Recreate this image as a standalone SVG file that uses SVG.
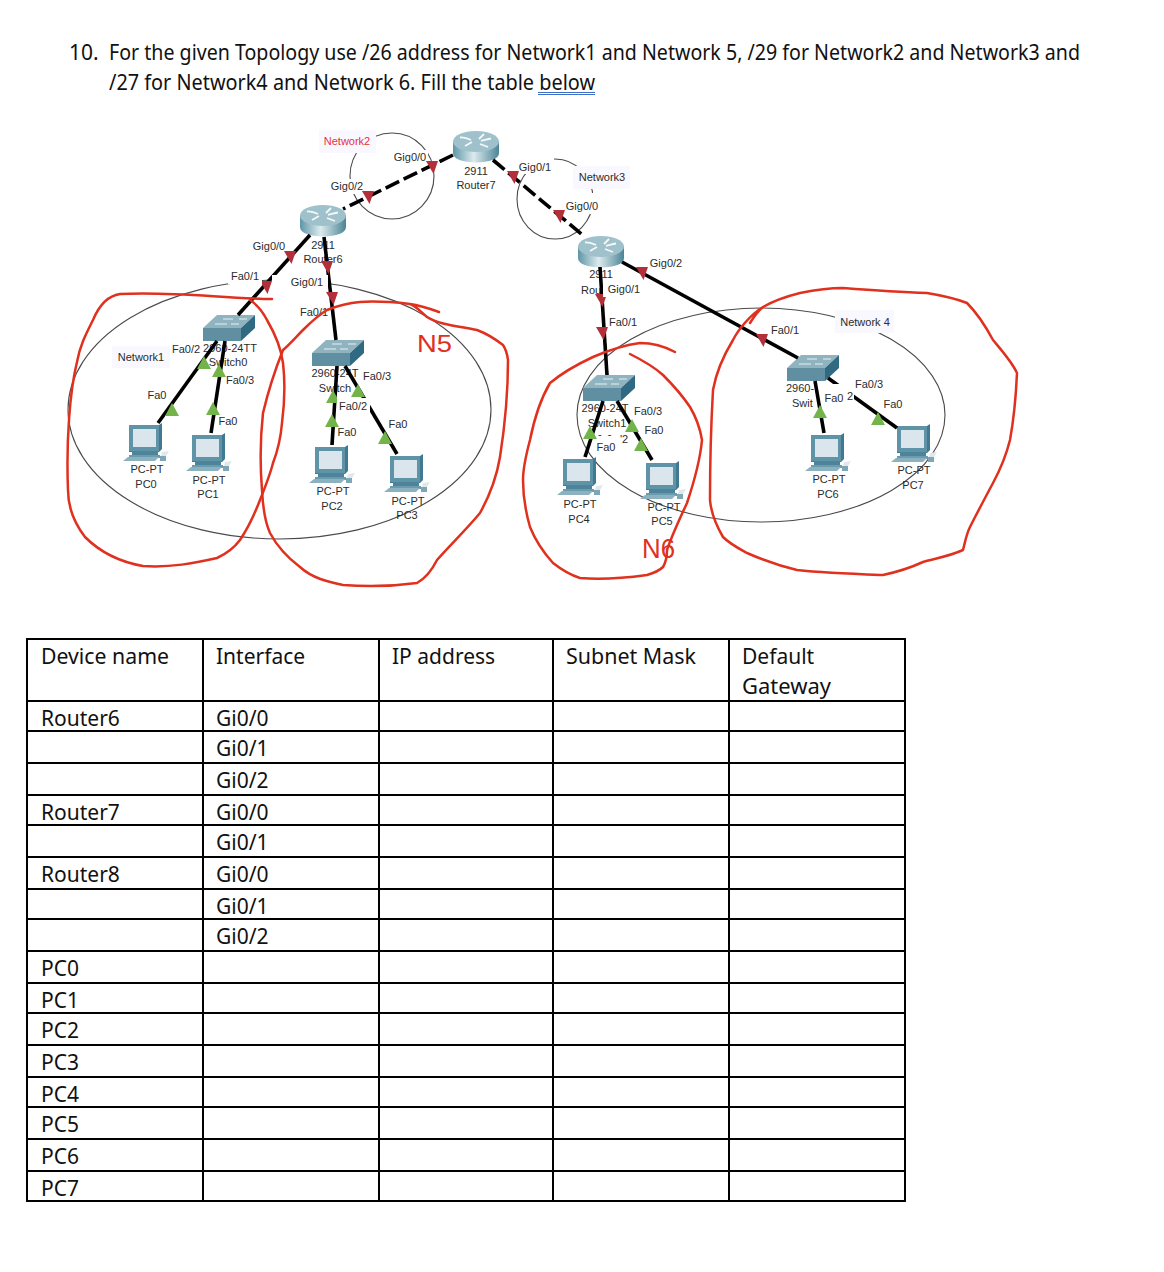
<svg xmlns="http://www.w3.org/2000/svg" width="1164" height="1272" viewBox="0 0 1164 1272">
<style>
.doc{font-family:"Noto Sans","Open Sans","Liberation Sans",sans-serif;font-size:21px;fill:#111}
.pt{font-family:"Liberation Sans",Arial,sans-serif;font-size:11px;fill:#2b2b2b;text-anchor:middle}
.st{text-anchor:start}
.lk{stroke:#000;stroke-width:3.6;fill:none}
.ds{stroke-dasharray:15 5}
.net{fill:none;stroke:#4a4a4a;stroke-width:1.1}
.red{fill:none;stroke:#e0301e;stroke-width:2.5;stroke-linecap:round;stroke-linejoin:round}
.hand{font-family:"Liberation Sans",sans-serif;fill:#e0301e}
.tb{stroke:#000;stroke-width:2;fill:none}
.bg{fill:#fff}
.lb{fill:#f8f8fe}
</style>
<defs>
<linearGradient id="rg" x1="0" x2="1" y1="0" y2="0"><stop offset="0" stop-color="#5f95a6"/><stop offset=".45" stop-color="#dcebee"/><stop offset="1" stop-color="#4c8496"/></linearGradient>
<g id="router">
<path d="M0 10V22C0 28 10 31.500 23 31.500S46 28 46 22V10Z" fill="url(#rg)"/>
<ellipse cx="23" cy="10.500" rx="23" ry="10.500" fill="#9fc1cc"/>
<path d="M7 6.500C11 6 14 7 18 9M12 15l7-4M38 7.500C35 8 32 9 28 10M31 3l-5 5M27 13l8 3" stroke="#f4f8f9" stroke-width="1.800" fill="none"/>
</g>
<g id="switch">
<path d="M14 0H52L38 13H0Z" fill="#8fb4c0"/>
<path d="M0 13H38V26H0Z" fill="#5f8fa1"/>
<path d="M38 13L52 0V13L38 26Z" fill="#2f6a82"/>
<path d="M12 9H24M28 9H36M20 4H30M36 4H44" stroke="#e6f0f3" stroke-width="1.200"/>
</g>
<g id="pc">
<path d="M6 3L36 2L39 0V26L36 29H6Z" fill="#3f7a92"/>
<path d="M6 2H36V28H6Z" fill="#5f93a8"/>
<path d="M10 6H33V24H10Z" fill="#dbe5ec"/>
<path d="M9 28H35V32H9Z" fill="#4e8499"/>
<path d="M6 32H37V35H6Z" fill="#6b9bae"/>
<path d="M5 34H36L32 38H0Z" fill="#8cb1bf"/>
<path d="M39 29l7-1-3 5H38Z" fill="#dfe8ec"/>
<path d="M37 33H43V38H37Z" fill="#7ea6b5"/>
</g>
<path id="rt" d="M-6-6H6L1.500 7Z" fill="#b3303a"/>
<path id="gt" d="M0-7L7 6H-7Z" fill="#72b44a"/>
</defs>
<rect width="1164" height="1272" fill="#fff"/>

<g id="heading">
<text class="doc" x="69" y="60">10.</text>
<text class="doc" x="109" y="60" textLength="971" lengthAdjust="spacingAndGlyphs">For the given Topology use /26 address for Network1 and Network 5, /29 for Network2 and Network3 and</text>
<text class="doc" x="109" y="90" textLength="486" lengthAdjust="spacingAndGlyphs">/27 for Network4 and Network 6. Fill the table below</text>
<path d="M538 92.500H595M538 94.500H595" stroke="#3f6fc4" stroke-width="1"/>
</g>

<g id="network-outlines">
<ellipse class="net" cx="279.500" cy="409.500" rx="211.500" ry="129.500"/>
<ellipse class="net" cx="392" cy="176" rx="42" ry="43"/>
<ellipse class="net" cx="555" cy="199" rx="38" ry="40"/>
<ellipse class="net" cx="761" cy="415" rx="184" ry="107"/>
<rect class="bg" x="517" y="156" width="37" height="18"/>
<rect class="bg" x="564" y="193" width="36" height="21"/>
<rect class="bg" x="392" y="150" width="36" height="15"/>
<rect class="bg" x="329" y="179" width="36" height="15"/>
</g>

<g id="router6"><use href="#router" x="300" y="205"/><text class="pt" x="323" y="249">2911</text><text class="pt" x="323" y="263">Router6</text></g>
<g id="router7"><use href="#router" x="453" y="131"/><text class="pt" x="476" y="175">2911</text><text class="pt" x="476" y="189">Router7</text></g>
<g id="router8"><use href="#router" x="578" y="236"/><text class="pt" x="601" y="278">2911</text><text class="pt st" x="581" y="294">Rou</text></g>
<g id="switch0"><use href="#switch" x="203" y="315"/><text class="pt" x="230" y="352">2960-24TT</text><text class="pt" x="228" y="366">Switch0</text></g>
<g id="switch4"><use href="#switch" x="312" y="340"/><text class="pt" x="335" y="377">2960-24T</text><text class="pt" x="335" y="392">Switch</text></g>
<g id="switch1"><use href="#switch" x="583" y="375"/><text class="pt" x="605" y="412">2960-24T</text><text class="pt" x="607" y="427">Switch1</text></g>
<g id="switch2"><use href="#switch" x="787" y="355"/><text class="pt st" x="786" y="392">2960-</text><text class="pt st" x="792" y="407">Swit</text></g>
<g id="pc0"><use href="#pc" x="123" y="423"/><text class="pt" x="147" y="473">PC-PT</text><text class="pt" x="146" y="488">PC0</text></g>
<g id="pc1"><use href="#pc" x="186" y="433"/><text class="pt" x="209" y="484">PC-PT</text><text class="pt" x="208" y="498">PC1</text></g>
<g id="pc2"><use href="#pc" x="309" y="445"/><text class="pt" x="333" y="495">PC-PT</text><text class="pt" x="332" y="510">PC2</text></g>
<g id="pc3"><use href="#pc" x="384" y="454"/><text class="pt" x="408" y="505">PC-PT</text><text class="pt" x="407" y="519">PC3</text></g>
<g id="pc4"><use href="#pc" x="557" y="457"/><text class="pt" x="580" y="508">PC-PT</text><text class="pt" x="579" y="523">PC4</text></g>
<g id="pc5"><use href="#pc" x="640" y="461"/><text class="pt" x="664" y="511">PC-PT</text><text class="pt" x="662" y="525">PC5</text></g>
<g id="pc6"><use href="#pc" x="805" y="433"/><text class="pt" x="829" y="483">PC-PT</text><text class="pt" x="828" y="498">PC6</text></g>
<g id="pc7"><use href="#pc" x="891" y="424"/><text class="pt" x="914" y="474">PC-PT</text><text class="pt" x="913" y="489">PC7</text></g>

<g id="connectors">
<path class="lk ds" d="M453 155L343 209"/>
<path class="lk ds" d="M493 160L585 237"/>
<path class="lk" d="M310 235L238 315"/>
<path class="lk" d="M324 237L336 340"/>
<path class="lk" d="M600 267L607 375"/>
<path class="lk" d="M622 262L798 358"/>
<path class="lk" d="M217 341L158 423"/>
<path class="lk" d="M225 341L211 433"/>
<path class="lk" d="M337 366L332 445"/>
<path class="lk" d="M345 366L397 454"/>
<path class="lk" d="M603 401L585 457"/>
<path class="lk" d="M617 401L652 460"/>
<path class="lk" d="M815 381L824 433"/>
<path class="lk" d="M828 378L897 428"/>
<g id="link-status">
<use href="#rt" x="290" y="257"/><use href="#rt" x="266" y="287"/><use href="#rt" x="368" y="197"/><use href="#rt" x="432" y="167"/><use href="#rt" x="327" y="267"/><use href="#rt" x="332" y="298"/><use href="#rt" x="513" y="177"/><use href="#rt" x="559" y="216"/><use href="#rt" x="642" y="273"/><use href="#rt" x="601" y="300"/><use href="#rt" x="602" y="333"/><use href="#rt" x="762" y="340"/>
<use href="#gt" x="204" y="363"/><use href="#gt" x="172" y="410"/><use href="#gt" x="219" y="371"/><use href="#gt" x="213" y="409"/><use href="#gt" x="333" y="397"/><use href="#gt" x="358" y="391"/><use href="#gt" x="332" y="421"/><use href="#gt" x="385" y="438"/><use href="#gt" x="590" y="433"/><use href="#gt" x="632" y="426"/><use href="#gt" x="641" y="445"/><use href="#gt" x="820" y="412"/><use href="#gt" x="878" y="419"/>
</g>
</g>

<g id="port-labels">
<rect class="lb" x="319" y="130" width="57" height="23"/><text class="pt" x="347" y="145" style="fill:#e8303f">Network2</text>
<text class="pt" x="410" y="161">Gig0/0</text>
<text class="pt" x="347" y="190">Gig0/2</text>
<text class="pt" x="269" y="250">Gig0/0</text>
<rect class="bg" x="228" y="269" width="34" height="15"/><text class="pt" x="245" y="280">Fa0/1</text>
<rect class="bg" x="272" y="275" width="56" height="15"/><text class="pt" x="307" y="286">Gig0/1</text>
<text class="pt" x="314" y="316">Fa0/1</text>
<rect class="lb" x="112" y="346" width="58" height="22"/><text class="pt" x="141" y="361">Network1</text>
<text class="pt" x="186" y="353">Fa0/2</text>
<text class="pt" x="240" y="384">Fa0/3</text>
<text class="pt" x="157" y="399">Fa0</text>
<text class="pt" x="228" y="425">Fa0</text>
<text class="pt" x="377" y="380">Fa0/3</text>
<rect class="bg" x="337" y="398" width="33" height="16"/><text class="pt" x="353" y="410">Fa0/2</text>
<text class="pt" x="347" y="436">Fa0</text>
<text class="pt" x="398" y="428">Fa0</text>
<text class="pt" x="535" y="171">Gig0/1</text>
<rect class="lb" x="573" y="166" width="57" height="23"/><text class="pt" x="602" y="181">Network3</text>
<text class="pt" x="582" y="210">Gig0/0</text>
<text class="pt" x="666" y="267">Gig0/2</text>
<rect class="bg" x="603" y="282" width="40" height="15"/><text class="pt" x="624" y="293">Gig0/1</text>
<text class="pt" x="623" y="326">Fa0/1</text>
<text class="pt" x="785" y="334">Fa0/1</text>
<rect class="lb" x="835" y="310" width="59" height="23"/><text class="pt" x="865" y="326">Network 4</text>
<text class="pt" x="648" y="415">Fa0/3</text>
<text class="pt" x="654" y="434">Fa0</text>
<text class="pt st" x="598" y="438" style="letter-spacing:6px">--</text>
<text class="pt" x="624" y="443">'2</text>
<rect class="bg" x="596" y="439" width="21" height="15"/><text class="pt" x="606" y="451">Fa0</text>
<text class="pt" x="869" y="388">Fa0/3</text>
<rect class="bg" x="821" y="384" width="33" height="21"/><text class="pt" x="834" y="402">Fa0</text><text class="pt" x="850" y="400">2</text>
<text class="pt" x="893" y="408">Fa0</text>
</g>

<g id="annotations">
<path class="red" d="M272 299C220 298 170 291 120 294C106 296 98 308 93 320C86 334 80 345 77 362C70 390 66 440 68 490C68 505 72 520 85 537C100 552 120 562 143 566C170 568 195 563 217 558C228 553 234 548 240 540C250 525 255 513 260 500C266 485 270 475 273 463C278 450 281 435 282 423C285 400 285 380 283 363C281 348 274 332 267 320C262 310 256 304 250 300"/>
<path class="red" d="M439 312C428 308 418 305 410 304C392 302 375 301 360 302C348 303 337 306 327 310C317 316 310 323 303 330C296 337 289 345 283 350C275 370 268 392 263 413C260 440 260 465 262 490C263 510 265 522 270 533C278 548 288 558 300 567C312 578 328 582 343 585C368 587 395 586 417 583C426 578 432 570 437 560C450 545 466 530 480 513C490 495 497 475 500 457C505 425 508 390 508 360C507 352 505 348 503 345C494 338 485 333 477 330C458 326 440 325 427 317C421 312 416 306 410 304"/>
<path class="red" d="M675 352C662 345 652 343 640 343C623 345 607 351 593 357C578 364 562 373 550 383C540 400 534 420 530 440C526 455 523 468 523 480C523 497 526 513 530 527C536 542 544 553 553 563C562 570 570 575 580 578C603 580 625 578 647 575C654 573 659 571 663 567C666 562 667 556 667 550C672 535 680 518 687 503C694 482 700 462 702 440C700 428 696 417 690 407C682 395 673 385 663 375C653 366 642 360 630 354"/>
<path class="red" d="M750 323C755 315 758 311 763 307C775 300 788 296 800 293C815 290 828 288 843 288C870 290 900 292 927 293C945 296 957 299 967 303C977 313 986 327 993 340C1003 352 1012 362 1017 373C1016 395 1014 418 1010 440C1006 456 1000 470 993 483C985 498 977 513 970 527C966 535 965 543 963 550C950 556 937 558 923 562C910 568 897 572 883 575C855 574 825 573 797 570C780 566 763 560 747 553C738 548 730 544 723 537C716 525 711 512 710 500C710 462 711 425 713 390C716 373 722 358 733 340C738 330 750 315 763 307"/>
<text class="hand" x="417" y="352" font-size="24" textLength="35" lengthAdjust="spacingAndGlyphs">N5</text>
<text class="hand" x="642" y="558" font-size="28" textLength="33" lengthAdjust="spacingAndGlyphs">N6</text>
</g>

<g id="table">
<path class="tb" d="M27 639H905V1201H27ZM203 639V1201M379 639V1201M553 639V1201M729 639V1201M27 701H905M27 731H905M27 763H905M27 795H905M27 825H905M27 857H905M27 889H905M27 919H905M27 951H905M27 983H905M27 1013H905M27 1045H905M27 1077H905M27 1107H905M27 1139H905M27 1171H905"/>
<text class="doc" x="41" y="664" textLength="128" lengthAdjust="spacingAndGlyphs">Device name</text><text class="doc" x="216" y="664">Interface</text><text class="doc" x="392" y="664">IP address</text><text class="doc" x="566" y="664" textLength="130" lengthAdjust="spacingAndGlyphs">Subnet Mask</text><text class="doc" x="742" y="664">Default</text><text class="doc" x="742" y="694" textLength="89" lengthAdjust="spacingAndGlyphs">Gateway</text>
<text class="doc" x="41" y="726">Router6</text><text class="doc" x="216" y="726">Gi0/0</text>
<text class="doc" x="216" y="756">Gi0/1</text>
<text class="doc" x="216" y="788">Gi0/2</text>
<text class="doc" x="41" y="820">Router7</text><text class="doc" x="216" y="820">Gi0/0</text>
<text class="doc" x="216" y="850">Gi0/1</text>
<text class="doc" x="41" y="882">Router8</text><text class="doc" x="216" y="882">Gi0/0</text>
<text class="doc" x="216" y="914">Gi0/1</text>
<text class="doc" x="216" y="944">Gi0/2</text>
<text class="doc" x="41" y="976">PC0</text><text class="doc" x="41" y="1008">PC1</text><text class="doc" x="41" y="1038">PC2</text><text class="doc" x="41" y="1070">PC3</text><text class="doc" x="41" y="1102">PC4</text><text class="doc" x="41" y="1132">PC5</text><text class="doc" x="41" y="1164">PC6</text><text class="doc" x="41" y="1196">PC7</text>
</g>
</svg>
